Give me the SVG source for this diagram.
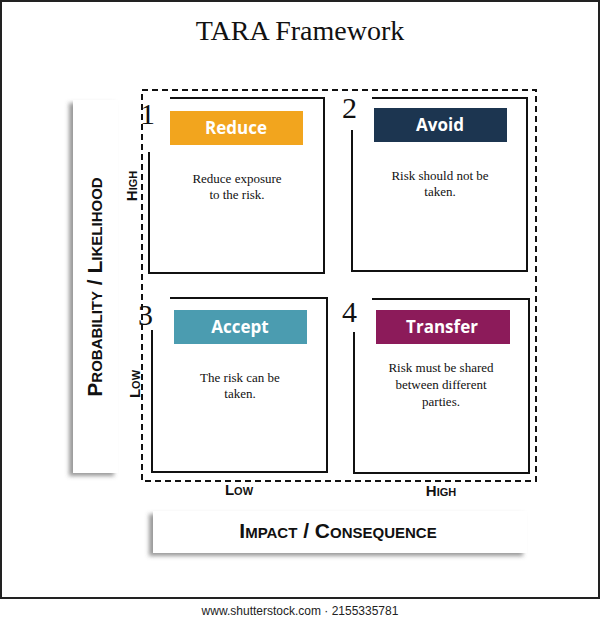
<svg xmlns="http://www.w3.org/2000/svg" width="600" height="620" viewBox="0 0 600 620">
<style>
.box{fill:#fff;stroke:#111;stroke-width:2}
.ban{font-family:"Open Sans","Liberation Sans",sans-serif;font-weight:bold;font-size:17px;fill:#fff;text-anchor:middle}
.desc{font-family:"Liberation Serif",serif;font-size:13px;fill:#111;text-anchor:middle}
.num{font-family:"Liberation Serif",serif;font-size:30px;fill:#111}
.ax{font-family:"Liberation Sans",sans-serif;font-weight:bold;font-variant:small-caps;fill:#111;text-anchor:middle}
</style>
<defs><filter id="sh" x="-20%" y="-20%" width="140%" height="140%"><feDropShadow dx="-4" dy="3" stdDeviation="2" flood-color="#555" flood-opacity="0.6"/></filter></defs>
<rect x="0" y="0" width="600" height="620" fill="#fff"/>
<rect x="1" y="1" width="598" height="597" fill="none" stroke="#222" stroke-width="2"/>
<text x="300" y="40" font-family="Liberation Serif,serif" font-size="28" text-anchor="middle" fill="#111">TARA Framework</text>
<g id="connectors"><rect x="142" y="90" width="394" height="391" fill="none" stroke="#111" stroke-width="2" stroke-dasharray="6,4"/></g>
<g id="yaxis"><rect x="73" y="100" width="45" height="373" fill="#fff" filter="url(#sh)"/>
<text class="ax" font-size="21" transform="translate(102,287) rotate(-90)">Probability / Likelihood</text>
<text class="ax" font-size="15" transform="translate(137,186) rotate(-90)">High</text>
<text class="ax" font-size="15" transform="translate(140,384) rotate(-90)">Low</text></g>
<g id="xaxis"><rect x="153" y="511" width="374" height="42" fill="#fff" filter="url(#sh)"/>
<text class="ax" font-size="21" x="338" y="538">Impact / Consequence</text>
<text class="ax" font-size="15" x="239" y="495">Low</text>
<text class="ax" font-size="15" x="441" y="496">High</text></g>
<g id="reduce"><path class="box" d="M170,98 H324 V273 H149 V152"/><text class="num" x="140" y="124">1</text>
<rect x="170" y="111" width="133" height="34" fill="#F2A51E"/><text class="ban" x="236" y="134">Reduce</text>
<text class="desc" x="237" y="183">Reduce exposure</text><text class="desc" x="237" y="199">to the risk.</text></g>
<g id="avoid"><path class="box" d="M372,98 H527 V271 H352 V130"/><text class="num" x="342" y="118">2</text>
<rect x="374" y="108" width="133" height="34" fill="#1C3550"/><text class="ban" x="440" y="131">Avoid</text>
<text class="desc" x="440" y="180">Risk should not be</text><text class="desc" x="440" y="196">taken.</text></g>
<g id="accept"><path class="box" d="M170,298 H327 V472 H152 V330"/><text class="num" x="138" y="325">3</text>
<rect x="174" y="310" width="133" height="34" fill="#4B9CB0"/><text class="ban" x="240" y="333">Accept</text>
<text class="desc" x="240" y="382">The risk can be</text><text class="desc" x="240" y="398">taken.</text></g>
<g id="transfer"><path class="box" d="M372,299 H529 V473 H354 V332"/><text class="num" x="342" y="322">4</text>
<rect x="376" y="310" width="134" height="34" fill="#8C1B5A"/><text class="ban" x="442" y="333">Transfer</text>
<text class="desc" x="441" y="372">Risk must be shared</text><text class="desc" x="441" y="389">between different</text><text class="desc" x="441" y="406">parties.</text></g>
<text x="300" y="615" font-family="Liberation Sans,sans-serif" font-size="12" text-anchor="middle" fill="#222">www.shutterstock.com · 2155335781</text>
</svg>
